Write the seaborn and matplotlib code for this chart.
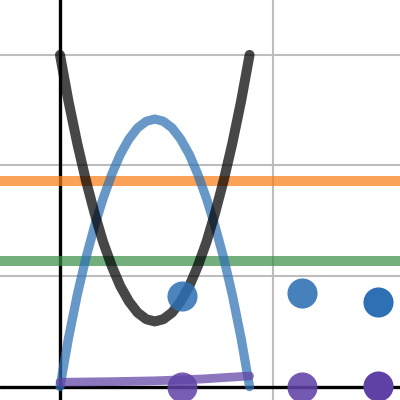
import numpy as np
import pandas as pd
import seaborn as sns
import matplotlib
matplotlib.use("Agg")
import matplotlib.pyplot as plt

# values (y grid step = 1, x grid line at 1)
curve_x = [0.000, 0.040, 0.081, 0.121, 0.162, 0.202, 0.243, 0.283, 0.324, 0.364, 0.405, 0.445,
           0.485, 0.526, 0.566, 0.607, 0.647, 0.688, 0.728, 0.769, 0.809, 0.850, 0.890]
black_y = [3.00, 2.58, 2.20, 1.87, 1.57, 1.31, 1.09, 0.91, 0.77, 0.67, 0.61, 0.59,
           0.61, 0.67, 0.77, 0.91, 1.09, 1.31, 1.57, 1.87, 2.20, 2.58, 3.00]
blue_y = [0.00, 0.44, 0.83, 1.16, 1.45, 1.70, 1.92, 2.10, 2.24, 2.34, 2.40, 2.42,
          2.40, 2.34, 2.24, 2.10, 1.92, 1.70, 1.45, 1.16, 0.83, 0.44, 0.00]
purple_x = [0.00, 0.22, 0.445, 0.67, 0.89]
purple_y = [0.040, 0.045, 0.053, 0.070, 0.097]

orange_level = 1.86
green_level = 1.14

dot_x = [0.574, 1.136, 1.495]
blue_dot_y = [0.82, 0.85, 0.77]
purple_dot_y = [0.0, 0.0, 0.01]
dot_alpha = [0.85, 0.88, 1.0]

BLUE = "#2d70b3"
GREEN = "#388c46"
PURPLE = "#6042a6"
ORANGE = "#fa7e19"

sns.set_style("white")
fig = plt.figure(figsize=(4, 4), dpi=100)
ax = fig.add_axes([0, 0, 1, 1])
ax.set_xlim(-0.2817, 1.5962)
ax.set_ylim(-0.1203, 3.4964)
for s in ax.spines.values():
    s.set_visible(False)
ax.set_xticks([])
ax.set_yticks([])

# grid and axes
for gy in [1, 2, 3]:
    ax.axhline(gy, color="#bdbdbd", lw=1.5, zorder=0)
ax.axvline(1, color="#bdbdbd", lw=1.5, zorder=0)
ax.axhline(0, color="black", lw=2.4, zorder=1)
ax.axvline(0, color="black", lw=2.4, zorder=1)

curves = pd.DataFrame({"x": curve_x, "black": black_y, "blue": blue_y})

ax.axhline(orange_level, color=ORANGE, alpha=0.72, lw=7.2, zorder=2)
ax.axhline(green_level, color=GREEN, alpha=0.7, lw=7.2, zorder=2)

sns.lineplot(data=curves, x="x", y="blue", color=BLUE, alpha=0.72, lw=6.6,
             solid_capstyle="round", sort=False, ax=ax, zorder=3)
sns.lineplot(x=purple_x, y=purple_y, color=PURPLE, alpha=0.72, lw=6.3,
             solid_capstyle="round", sort=False, ax=ax, zorder=3)
sns.lineplot(data=curves, x="x", y="black", color="black", alpha=0.72, lw=7.2,
             solid_capstyle="round", sort=False, ax=ax, zorder=4)

for xx, by, py, a in zip(dot_x, blue_dot_y, purple_dot_y, dot_alpha):
    sns.scatterplot(x=[xx], y=[by], color=BLUE, alpha=a, s=470, linewidth=0,
                    ax=ax, zorder=5)
    sns.scatterplot(x=[xx], y=[py], color=PURPLE, alpha=a, s=470, linewidth=0,
                    ax=ax, zorder=5)

ax.set_xlabel("")
ax.set_ylabel("")
fig.savefig("out.png", dpi=100)
